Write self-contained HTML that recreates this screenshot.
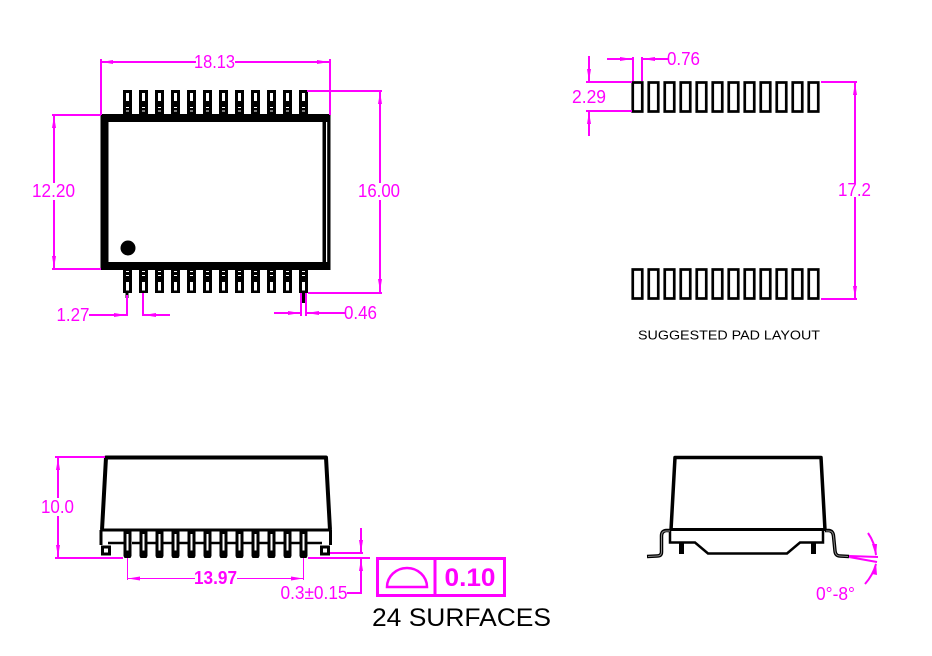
<!DOCTYPE html>
<html><head><meta charset="utf-8"><style>
html,body{margin:0;padding:0;background:#fff;width:932px;height:656px;overflow:hidden}
svg{display:block}
text{font-family:"Liberation Sans",sans-serif;fill:#ff00ff;font-size:18px;text-anchor:middle;dominant-baseline:central}
.m{stroke:#ff00ff;stroke-width:2;fill:none;shape-rendering:crispEdges}
.t{stroke:#ff00ff;stroke-width:1;fill:none;shape-rendering:crispEdges}
.a{fill:#ff00ff;stroke:none}
.k{stroke:#000;fill:none;stroke-width:3}
</style></head><body>
<svg width="932" height="656" viewBox="0 0 932 656" xmlns="http://www.w3.org/2000/svg">
<defs>
<g id="pt"><rect x="0" y="0" width="9" height="25" fill="#000"/><rect x="3" y="3" width="3" height="8" fill="#fff"/><rect x="3" y="17" width="3" height="1" fill="#fff"/><rect x="3" y="20.5" width="3" height="1" fill="#fff"/></g>
<g id="pb"><rect x="0" y="0" width="9" height="24" fill="#000"/><rect x="3" y="2" width="3" height="1" fill="#fff"/><rect x="3" y="6" width="3" height="1" fill="#fff"/><rect x="3" y="13" width="3" height="8.500" fill="#fff"/></g>
<rect id="pad" x="0" y="0" width="9.500" height="29" fill="#fff" stroke="#000" stroke-width="2.700"/>
<g id="ps"><path d="M0.500 530H8.500V556L7.500 558H1.500L0.500 556Z" fill="#000"/><rect x="3.500" y="534" width="2" height="16.500" fill="#fff"/></g>
</defs>

<!-- top-left view pins -->
<g>
<use href="#pt" x="123" y="90"/><use href="#pt" x="139" y="90"/><use href="#pt" x="155" y="90"/><use href="#pt" x="171" y="90"/><use href="#pt" x="187" y="90"/><use href="#pt" x="203" y="90"/><use href="#pt" x="219" y="90"/><use href="#pt" x="235" y="90"/><use href="#pt" x="251" y="90"/><use href="#pt" x="267" y="90"/><use href="#pt" x="283" y="90"/><use href="#pt" x="299" y="90"/>
<use href="#pb" x="123" y="269"/><use href="#pb" x="139" y="269"/><use href="#pb" x="155" y="269"/><use href="#pb" x="171" y="269"/><use href="#pb" x="187" y="269"/><use href="#pb" x="203" y="269"/><use href="#pb" x="219" y="269"/><use href="#pb" x="235" y="269"/><use href="#pb" x="251" y="269"/><use href="#pb" x="267" y="269"/><use href="#pb" x="283" y="269"/><use href="#pb" x="299" y="269"/>
<rect x="125.500" y="293" width="3" height="5" fill="#000"/>
<rect x="302" y="293" width="3" height="10" fill="#000"/>
</g>
<path d="M104.500 118H326.500V266H104.500Z" fill="#fff" stroke="#000" stroke-width="8" stroke-linejoin="miter"/>
<rect x="326" y="122" width="1.200" height="140" fill="#fff"/>
<circle cx="128" cy="248" r="7.500" fill="#000"/>

<!-- top-left dims -->
<path class="m" d="M101 59V115M330 59V115M101 62H196M235 62H330M52 115H101M52 269H101M54 115V183M54 200V269M307 91H382M308 293H382M380 91V183M380 200V293M127 295V316M143 293V316M89 315H127M143 315H170M301 293V316M306 293V316M274 313H301M306 313H345"/>
<polygon class="a" points="102,62 113,60 113,64"/>
<polygon class="a" points="329,62 317,60 317,64"/>
<polygon class="a" points="54,116 52,128 56,128"/>
<polygon class="a" points="54,268 52,256 56,256"/>
<polygon class="a" points="380,92 378,104 382,104"/>
<polygon class="a" points="380,291 378,279 382,279"/>
<polygon class="a" points="126,315 114,313 114,317"/>
<polygon class="a" points="144,315 156,313 156,317"/>
<polygon class="a" points="300,313 288,311 288,315"/>
<polygon class="a" points="307,313 319,311 319,315"/>
<text x="214.500" y="62" textLength="41" lengthAdjust="spacingAndGlyphs">18.13</text>
<text x="53.500" y="191" textLength="43" lengthAdjust="spacingAndGlyphs">12.20</text>
<text x="379" y="191" textLength="42" lengthAdjust="spacingAndGlyphs">16.00</text>
<text x="73" y="315" textLength="33" lengthAdjust="spacingAndGlyphs">1.27</text>
<text x="360.500" y="313" textLength="33" lengthAdjust="spacingAndGlyphs">0.46</text>

<!-- pads -->
<g>
<use href="#pad" x="632.750" y="82.500"/><use href="#pad" x="648.750" y="82.500"/><use href="#pad" x="664.750" y="82.500"/><use href="#pad" x="680.750" y="82.500"/><use href="#pad" x="696.750" y="82.500"/><use href="#pad" x="712.750" y="82.500"/><use href="#pad" x="728.750" y="82.500"/><use href="#pad" x="744.750" y="82.500"/><use href="#pad" x="760.750" y="82.500"/><use href="#pad" x="776.750" y="82.500"/><use href="#pad" x="792.750" y="82.500"/><use href="#pad" x="808.750" y="82.500"/>
<use href="#pad" x="632.750" y="269.500"/><use href="#pad" x="648.750" y="269.500"/><use href="#pad" x="664.750" y="269.500"/><use href="#pad" x="680.750" y="269.500"/><use href="#pad" x="696.750" y="269.500"/><use href="#pad" x="712.750" y="269.500"/><use href="#pad" x="728.750" y="269.500"/><use href="#pad" x="744.750" y="269.500"/><use href="#pad" x="760.750" y="269.500"/><use href="#pad" x="776.750" y="269.500"/><use href="#pad" x="792.750" y="269.500"/><use href="#pad" x="808.750" y="269.500"/>
</g>
<path class="m" d="M633 57V81M642 57V81M607 59H633M642 59H668M586 82H632M586 111H632M589 56V82M589 111V136M821 82H857M821 299H857M855 82V183M855 197V299"/>
<polygon class="a" points="632,59 620,57 620,61"/>
<polygon class="a" points="643,59 655,57 655,61"/>
<polygon class="a" points="589,81 587,69 591,69"/>
<polygon class="a" points="589,112 587,124 591,124"/>
<polygon class="a" points="855,83 853,95 857,95"/>
<polygon class="a" points="855,298 853,286 857,286"/>
<text x="683.500" y="59" textLength="33" lengthAdjust="spacingAndGlyphs">0.76</text>
<text x="589" y="97" textLength="34" lengthAdjust="spacingAndGlyphs">2.29</text>
<text x="854.500" y="190" textLength="33" lengthAdjust="spacingAndGlyphs">17.2</text>
<text x="729" y="335" textLength="182" lengthAdjust="spacingAndGlyphs" style="fill:#000;font-size:13px">SUGGESTED PAD LAYOUT</text>

<!-- bottom-left side view -->
<path d="M102 530L106 457.500H326L330 530" fill="none" stroke="#000" stroke-width="4" stroke-linejoin="round"/>
<path class="k" d="M101 530H331M101 530V545M330.500 530V545"/>
<path d="M108 543H124M132 543H322" stroke="#000" stroke-width="2.500" fill="none"/>
<rect x="102.500" y="547" width="7" height="7" fill="#fff" stroke="#000" stroke-width="3"/>
<rect x="321.500" y="547" width="7" height="7" fill="#fff" stroke="#000" stroke-width="3"/>
<g>
<use href="#ps" x="123"/><use href="#ps" x="139"/><use href="#ps" x="155"/><use href="#ps" x="171"/><use href="#ps" x="187"/><use href="#ps" x="203"/><use href="#ps" x="219"/><use href="#ps" x="235"/><use href="#ps" x="251"/><use href="#ps" x="267"/><use href="#ps" x="283"/><use href="#ps" x="299"/>
</g>
<path class="m" d="M55 457H105M55 558H123M58 457V498M58 516V558M308 558H370M330 553H363M361 528V553M361 558V593M347 593H362"/>
<path class="t" d="M127.500 558V580M303.500 558V580"/>
<path class="m" style="stroke-width:1" d="M127 578.500H195M237 578.500H303"/>
<polygon class="a" points="58,458 56,470 60,470"/>
<polygon class="a" points="58,557 56,545 60,545"/>
<polygon class="a" points="128,578.500 140,576.500 140,580.500"/>
<polygon class="a" points="303,578.500 291,576.500 291,580.500"/>
<polygon class="a" points="361,552 359,540 363,540"/>
<polygon class="a" points="361,559 359,571 363,571"/>
<text x="57.500" y="507" textLength="33" lengthAdjust="spacingAndGlyphs">10.0</text>
<text x="215.500" y="578" textLength="43" lengthAdjust="spacingAndGlyphs" font-weight="bold">13.97</text>
<text x="314" y="593" textLength="67" lengthAdjust="spacingAndGlyphs">0.3±0.15</text>

<!-- FCF -->
<rect x="377.500" y="558.500" width="127" height="37" fill="none" stroke="#ff00ff" stroke-width="3"/>
<path d="M435 558V596" stroke="#ff00ff" stroke-width="3"/>
<path d="M387 587A20 19 0 0 1 427 587Z" fill="none" stroke="#ff00ff" stroke-width="2.500"/>
<text x="470" y="578" textLength="51" lengthAdjust="spacingAndGlyphs" font-weight="bold" style="font-size:25px">0.10</text>
<text x="461.500" y="618" textLength="179" lengthAdjust="spacingAndGlyphs" style="fill:#000;font-size:25px">24 SURFACES</text>

<!-- bottom-right side view -->
<path d="M671 530L675 457.500H821L825 530" fill="none" stroke="#000" stroke-width="3.500" stroke-linejoin="round"/>
<path d="M670 529.500H826" stroke="#000" stroke-width="3" fill="none"/>
<path d="M670 530V542.500H695L708 553.500H787L800 542.500H823V530" stroke="#000" stroke-width="2.500" fill="none"/>
<rect x="679" y="543" width="5" height="11" fill="#000"/>
<rect x="811" y="543" width="5" height="11" fill="#000"/>
<path d="M671 530.500H666Q661.500 531 661.500 536V552Q661.500 556 657 556L647 556.500" fill="none" stroke="#000" stroke-width="3.500"/>
<path d="M670 531H666Q661.500 531 661.500 536V552Q661.500 556 657 556L648 556.500" fill="none" stroke="#888" stroke-width="1"/>
<path d="M825 530.500H829Q833 531 833.500 536L835 551Q835.500 556 840 556L849 556.500" fill="none" stroke="#000" stroke-width="3.500"/>
<path d="M826 531H829Q833 531 833.500 536L835 551Q835.500 556 840 556L848 556.500" fill="none" stroke="#888" stroke-width="1"/>
<path d="M849 556L878 557M849 557L877 562M868 533Q875 543 876 555M865 584Q873 575 876 564" fill="none" stroke="#ff00ff" stroke-width="2"/>
<polygon class="a" points="876,556 872,544 877,544"/>
<polygon class="a" points="876,563 872,574 877,575"/>
<text x="835.500" y="594" textLength="39" lengthAdjust="spacingAndGlyphs">0°-8°</text>
</svg>
</body></html>
